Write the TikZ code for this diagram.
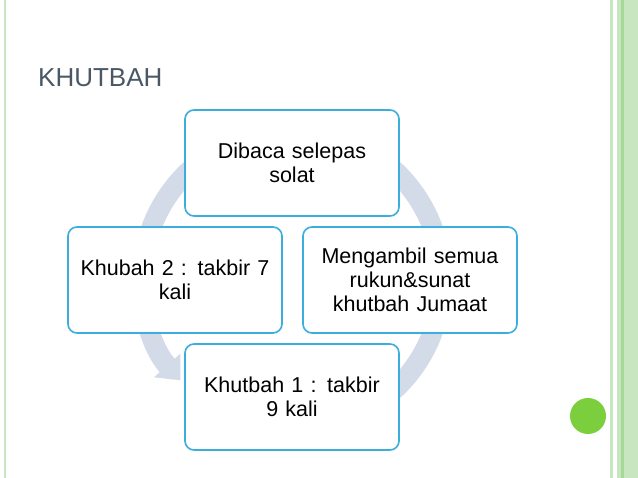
\documentclass[tikz,border=0pt]{standalone}
\usepackage{fontspec}
\setmainfont{Liberation Sans}
\usetikzlibrary{arrows.meta}
\definecolor{gr}{HTML}{C8E6C0}
\definecolor{grd}{HTML}{A8D898}
\definecolor{bx}{HTML}{3AAEDC}
\definecolor{ring}{HTML}{D3DAE8}
\definecolor{ttl}{HTML}{4A5866}
\definecolor{dot}{HTML}{7CCF3C}
\begin{document}
\begin{tikzpicture}[x=1pt,y=-1pt,
  box/.style={draw=bx,line width=1.6pt,fill=white,rounded corners=9pt,minimum width=214pt,minimum height=106pt,align=center,font=\fontsize{21.5}{24}\selectfont,text width=210pt,inner sep=1pt}]
\fill[white] (0,0) rectangle (638,478);
\fill[gr] (4,0) rectangle (6,478);
\fill[gr] (610,0) rectangle (613,478);
\fill[gr] (617,0) rectangle (638,478);
\fill[grd] (621,0) rectangle (624,478);
\node[font=\fontsize{26}{30}\selectfont,text=ttl,anchor=west,inner sep=0pt] (t) at (38,78) {KHUTBAH};
\coordinate (c) at (292,280);
\draw[ring,line width=20pt,-{Triangle[length=20pt,width=34pt]}] (c) ++(-80:150) arc[start angle=-80,end angle=-222,radius=150] ;
\draw[ring,line width=20pt] (c) ++(100:150) arc[start angle=100,end angle=-80,radius=150];
\node[box] (a) at (292,163) {Dibaca selepas\\solat};
\node[box] (b) at (410,280) {Mengambil semua\\rukun\&sunat\\khutbah Jumaat};
\node[box] (d) at (292,397) {Khutbah 1 : takbir\\9 kali};
\node[box] (e) at (175,280) {Khubah 2 : takbir 7\\kali};
\fill[dot] (588,416) circle (18);
\end{tikzpicture}
\end{document}
